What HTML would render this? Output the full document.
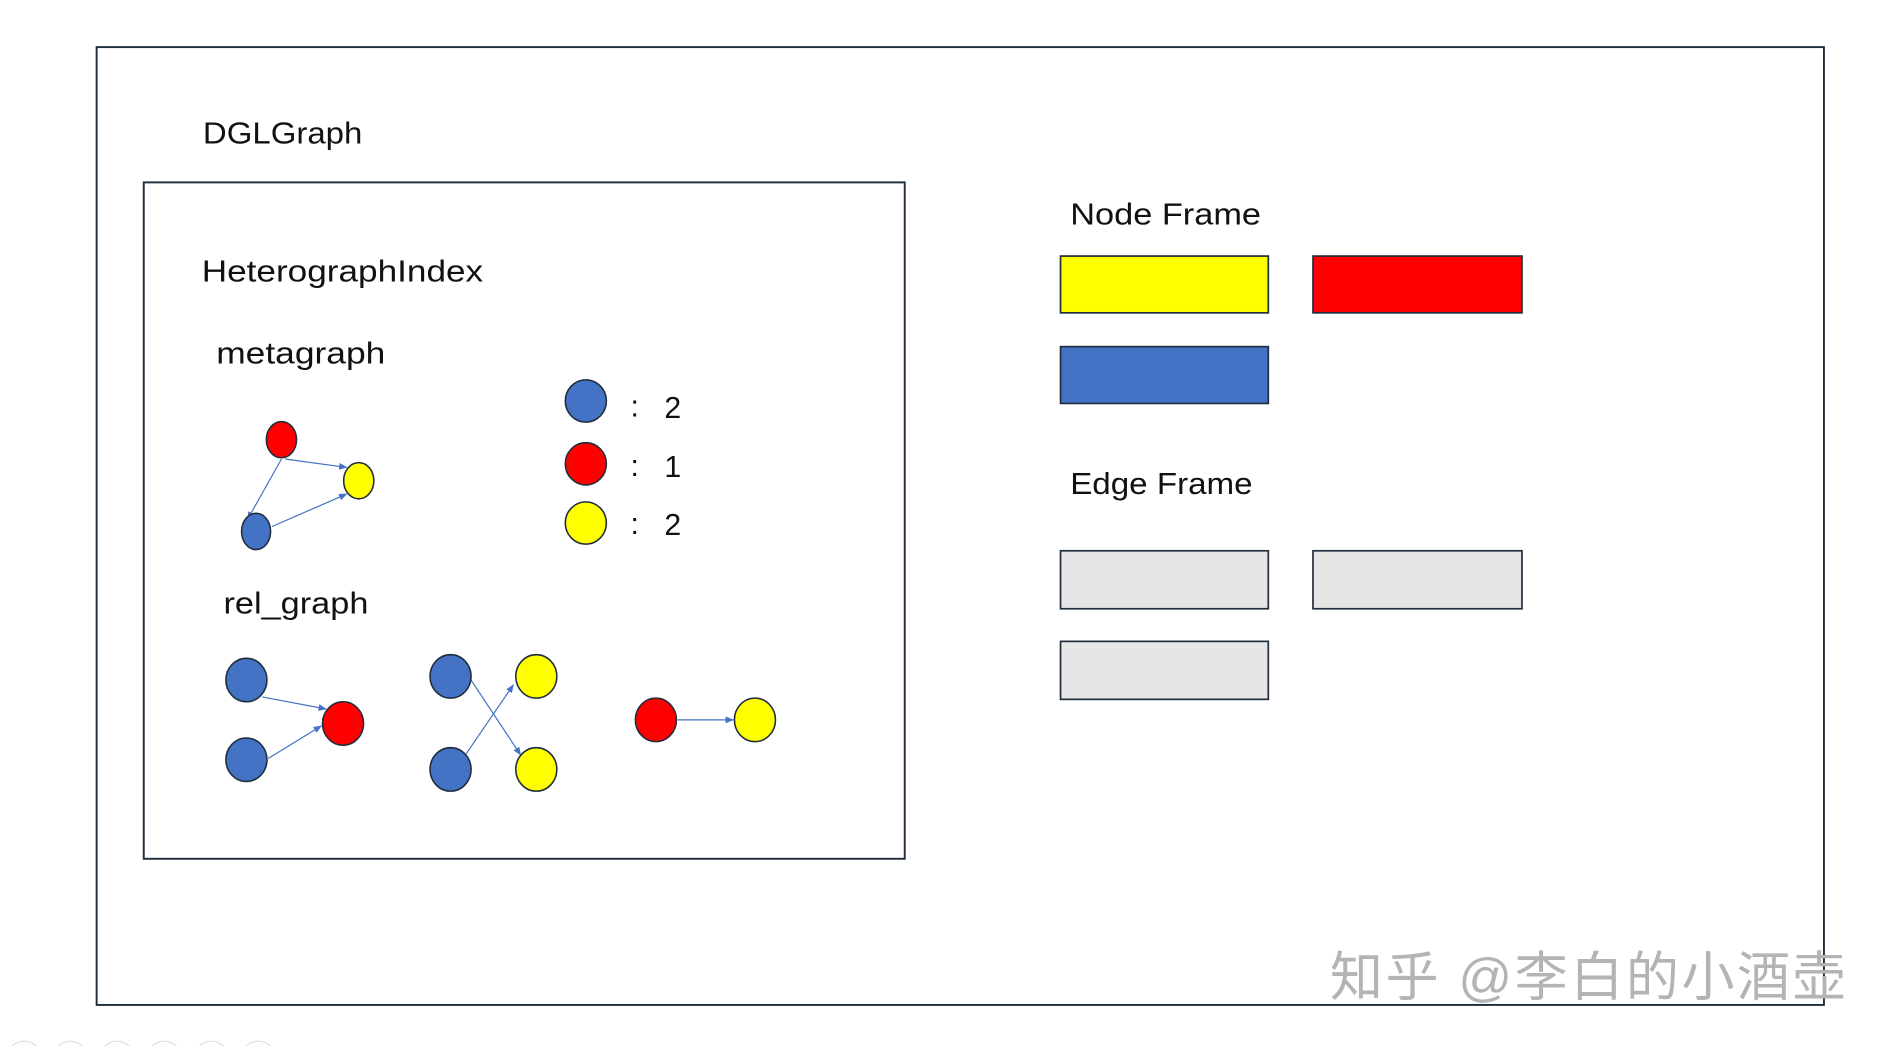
<!DOCTYPE html>
<html><head><meta charset="utf-8"><style>
html,body{margin:0;padding:0;background:#fff;width:1894px;height:1046px;overflow:hidden}
svg{display:block}
text{font-family:"Liberation Sans","Noto Sans CJK SC",sans-serif;fill:#111}
</style></head><body>
<svg width="1894" height="1046" viewBox="0 0 1568 866" preserveAspectRatio="none" xmlns="http://www.w3.org/2000/svg">
<defs>
<marker id="a" viewBox="0 0 10 10" refX="9" refY="5" markerWidth="7" markerHeight="7" orient="auto"><path d="M0,1 L10,5 L0,9 z" fill="#4472c4"/></marker>
</defs>
<rect x="80" y="39" width="1430" height="793" fill="none" stroke="#1f2d3d" stroke-width="1.6"/>
<text x="168" y="119" font-size="25" textLength="132" lengthAdjust="spacingAndGlyphs">DGLGraph</text>
<rect x="119" y="151" width="630" height="560" fill="none" stroke="#1f2d3d" stroke-width="1.6"/>
<text x="167" y="233" font-size="25" textLength="233" lengthAdjust="spacingAndGlyphs">HeterographIndex</text>
<text x="179" y="301" font-size="25" textLength="140" lengthAdjust="spacingAndGlyphs">metagraph</text>
<g stroke="#4472c4" stroke-width="1" fill="none" marker-end="url(#a)">
<line x1="236" y1="380" x2="287" y2="387"/>
<line x1="233" y1="380" x2="205" y2="430"/>
<line x1="225" y1="436" x2="287" y2="409"/>
<line x1="217" y1="577" x2="270" y2="587"/>
<line x1="222" y1="628" x2="266" y2="601"/>
<line x1="390" y1="563" x2="431" y2="625"/>
<line x1="386" y1="624" x2="425" y2="567"/>
<line x1="561" y1="596" x2="607" y2="596"/>
</g>
<g stroke="#1f2d3d" stroke-width="1.3">
<ellipse cx="233" cy="364" rx="12.5" ry="15" fill="#ff0000"/>
<ellipse cx="297" cy="398" rx="12.5" ry="15" fill="#ffff00"/>
<ellipse cx="212" cy="440" rx="12" ry="15" fill="#4472c4"/>
<ellipse cx="485" cy="332" rx="17" ry="17.5" fill="#4472c4"/>
<ellipse cx="485" cy="384" rx="17" ry="17.5" fill="#ff0000"/>
<ellipse cx="485" cy="433" rx="17" ry="17.5" fill="#ffff00"/>
<ellipse cx="204" cy="563" rx="17" ry="18" fill="#4472c4"/>
<ellipse cx="204" cy="629" rx="17" ry="18" fill="#4472c4"/>
<ellipse cx="284" cy="599" rx="17" ry="18" fill="#ff0000"/>
<ellipse cx="373" cy="560" rx="17" ry="18" fill="#4472c4"/>
<ellipse cx="373" cy="637" rx="17" ry="18" fill="#4472c4"/>
<ellipse cx="444" cy="560" rx="17" ry="18" fill="#ffff00"/>
<ellipse cx="444" cy="637" rx="17" ry="18" fill="#ffff00"/>
<ellipse cx="543" cy="596" rx="17" ry="18" fill="#ff0000"/>
<ellipse cx="625" cy="596" rx="17" ry="18" fill="#ffff00"/>
</g>
<text x="522" y="345" font-size="25">:</text><text x="550" y="346" font-size="25">2</text>
<text x="522" y="394" font-size="25">:</text><text x="550" y="395" font-size="25">1</text>
<text x="522" y="442" font-size="25">:</text><text x="550" y="443" font-size="25">2</text>
<text x="185" y="508" font-size="25" textLength="120" lengthAdjust="spacingAndGlyphs">rel_graph</text>
<text x="886" y="186" font-size="25" textLength="158" lengthAdjust="spacingAndGlyphs">Node Frame</text>
<g stroke="#1f2d3d" stroke-width="1.4">
<rect x="878" y="212" width="172" height="47" fill="#ffff00"/>
<rect x="1087" y="212" width="173" height="47" fill="#ff0000"/>
<rect x="878" y="287" width="172" height="47" fill="#4472c4"/>
<rect x="878" y="456" width="172" height="48" fill="#e6e6e6"/>
<rect x="1087" y="456" width="173" height="48" fill="#e6e6e6"/>
<rect x="878" y="531" width="172" height="48" fill="#e6e6e6"/>
</g>
<text x="886" y="409" font-size="25" textLength="151" lengthAdjust="spacingAndGlyphs">Edge Frame</text>
<text x="1101" y="824" font-size="44" style="fill:#b4b4b4" textLength="427">知乎 @李白的小酒壶</text>
<g fill="none" stroke="#ddd" stroke-width="1">
<circle cx="20" cy="876" r="14"/><circle cx="58" cy="876" r="14"/><circle cx="97" cy="876" r="14"/>
<circle cx="136" cy="876" r="14"/><circle cx="175" cy="876" r="14"/><circle cx="214" cy="876" r="14"/>
</g>
</svg>
</body></html>
